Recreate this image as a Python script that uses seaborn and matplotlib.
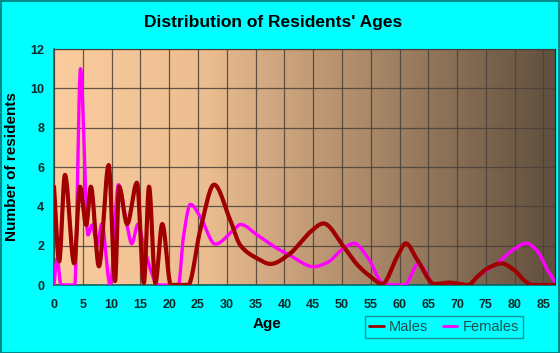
import matplotlib
matplotlib.use("Agg")
import matplotlib.pyplot as plt
import numpy as np
import pandas as pd
import seaborn as sns
from matplotlib.colors import LinearSegmentedColormap
from matplotlib.patches import Rectangle
from matplotlib.ticker import MultipleLocator


TITLE = "Distribution of Residents' Ages"
X_LABEL = "Age"
Y_LABEL = "Number of residents"

# points (age, residents)
MALE_AGES = [0, 0.9, 1.9, 3.5, 4.5, 5.6, 6.4, 7.8, 9.5, 10.6, 11.3, 12.7, 14.4, 15.6,
             16.5, 17.6, 18.8, 20.3, 23.3, 25.4, 27.8, 30.6, 32.4, 35.3, 37.6, 41.0,
             42.8, 44.5, 46.8, 50.3, 52.7, 55.0, 57.0, 59.6, 61.1, 63.1, 66.1, 68.6,
             71.9, 73.5, 75.3, 77.7, 79.9, 81.6, 83.0, 87.0]
MALE_VALUES = [5.0, 1.2, 5.6, 1.1, 5.0, 3.05, 5.0, 0.95, 6.1, 0.2, 5.0, 3.1, 5.2, 0.1,
               5.0, 0.1, 3.1, 0.0, 0.0, 2.8, 5.1, 3.3, 2.0, 1.35, 1.07, 1.6,
               2.15, 2.7, 3.13, 1.95, 1.02, 0.42, 0.05, 1.44, 2.12, 1.27, 0.05, 0.12,
               0.0, 0.42, 0.85, 1.1, 0.76, 0.25, 0.0, 0.0]

FEMALE_AGES = [0, 0.55, 1.2, 3.6, 4.6, 5.9, 6.6, 7.5, 8.3, 9.75, 11.2, 12.7, 13.5, 14.6,
               15.7, 18.2, 21.6, 22.5, 23.7, 25.4, 28.0, 31.2, 32.4, 35.3, 38.7, 41.0,
               45.1, 47.4, 50.3, 52.1, 54.4, 57.3, 60.9, 63.3, 66.1, 71.9, 73.5, 77.3,
               79.3, 82.1, 84.0, 85.7, 87.0]
FEMALE_VALUES = [0.0, 1.35, 0.0, 0.0, 11.0, 2.55, 3.05, 2.05, 3.1, 0.0, 5.1, 3.0, 2.1, 3.1,
                 1.8, 0.0, 0.0, 2.5, 4.1, 3.47, 2.08, 2.8, 3.08, 2.54, 1.87, 1.5,
                 0.93, 1.13, 1.87, 2.12, 1.44, 0.05, 0.0, 1.1, 0.0, 0.0, 0.42, 1.18,
                 1.7, 2.12, 1.7, 0.76, 0.15]

X_TICKS = list(range(0, 90, 5))
Y_TICKS = list(range(0, 14, 2))

MALE_COLOR = "#a00000"
FEMALE_COLOR = "#ff00ff"
CYAN = "#00ffff"
TEAL = "#006868"


def smooth_curve(xs, ys, per_unit=20):
    # shape-preserving cubic so the line looks like the original smoothed chart line
    x = np.asarray(xs, float)
    y = np.asarray(ys, float)
    h = np.diff(x)
    d = np.diff(y) / h
    m = np.zeros_like(y)
    for k in range(1, len(x) - 1):
        if d[k - 1] * d[k] > 0:
            w1 = 2 * h[k] + h[k - 1]
            w2 = h[k] + 2 * h[k - 1]
            m[k] = (w1 + w2) / (w1 / d[k - 1] + w2 / d[k])
    m[0], m[-1] = d[0], d[-1]
    out_x, out_y = [], []
    for k in range(len(x) - 1):
        n = max(int(h[k] * per_unit), 4)
        t = np.linspace(0, 1, n, endpoint=False)
        h00 = 2 * t**3 - 3 * t**2 + 1
        h10 = t**3 - 2 * t**2 + t
        h01 = -2 * t**3 + 3 * t**2
        h11 = t**3 - t**2
        out_x.append(x[k] + t * h[k])
        out_y.append(h00 * y[k] + h10 * h[k] * m[k] + h01 * y[k + 1] + h11 * h[k] * m[k + 1])
    out_x.append([x[-1]])
    out_y.append([y[-1]])
    return np.concatenate(out_x), np.clip(np.concatenate(out_y), 0, None)


sns.set_style("white")
plt.rcParams["font.family"] = ["Liberation Sans", "DejaVu Sans"]

fig = plt.figure(figsize=(5.6, 3.53), dpi=100, facecolor=CYAN)
ax = fig.add_axes([54 / 560, 1 - 285 / 353, 501 / 560, 236 / 353])

# background gradient, light peach on the left to dark brown on the right
bg = LinearSegmentedColormap.from_list(
    "bg",
    [(0.0, "#fbcc9e"), (0.3, "#ecbd90"), (0.6, "#b08d6c"), (1.0, "#604f3e")],
)
ax.imshow(np.linspace(0, 1, 256).reshape(1, -1), cmap=bg, aspect="auto",
          extent=[0, 87, 0, 12], zorder=0)

mx, my = smooth_curve(MALE_AGES, MALE_VALUES)
fx, fy = smooth_curve(FEMALE_AGES, FEMALE_VALUES)
males = pd.DataFrame({"age": mx, "residents": my})
females = pd.DataFrame({"age": fx, "residents": fy})

sns.lineplot(data=females, x="age", y="residents", color=FEMALE_COLOR, lw=2.4,
             sort=False, estimator=None, ax=ax, label="Females", zorder=3)
sns.lineplot(data=males, x="age", y="residents", color=MALE_COLOR, lw=3.0,
             sort=False, estimator=None, ax=ax, label="Males", zorder=4)

ax.set_xlim(0, 87)
ax.set_ylim(0, 12)
ax.set_xticks(X_TICKS)
ax.set_yticks(Y_TICKS)
ax.xaxis.set_minor_locator(MultipleLocator(1))
ax.grid(True, which="major", color="#4a4038", lw=0.9, alpha=0.85, zorder=1)
ax.set_axisbelow(False)
for line in ax.get_xgridlines() + ax.get_ygridlines():
    line.set_zorder(1)

ax.tick_params(axis="both", which="both", direction="out", color=TEAL,
               labelcolor="#0a2a2a", labelsize=9)
ax.tick_params(axis="x", which="major", length=4, pad=6)
ax.tick_params(axis="x", which="minor", length=3)
ax.tick_params(axis="y", which="major", length=4, pad=3)
for lab in ax.get_xticklabels() + ax.get_yticklabels():
    lab.set_fontweight("bold")

for side in ["top", "right"]:
    ax.spines[side].set_color("#2a2a2a")
for side in ["left", "bottom"]:
    ax.spines[side].set_color(TEAL)
    ax.spines[side].set_linewidth(1.2)

ax.set_xlabel(X_LABEL, fontsize=11, fontweight="bold", color="black")
ax.set_ylabel(Y_LABEL, fontsize=11, fontweight="bold", color="black", labelpad=8)
ax.xaxis.set_label_coords(0.425, -0.165)
ax.xaxis.label.set_va("center")

fig.text(0.487, 0.935, TITLE, ha="center", va="center", fontsize=12.5,
         fontweight="bold", color="black")

handles, labels = ax.get_legend_handles_labels()
order = [labels.index("Males"), labels.index("Females")]
leg = ax.legend([handles[i] for i in order], [labels[i] for i in order],
                loc="center", bbox_to_anchor=(444 / 560, 1 - 327 / 353),
                bbox_transform=fig.transFigure, ncol=2, frameon=True,
                fancybox=False, handlelength=1.0, handletextpad=0.35,
                columnspacing=1.0, borderpad=0.3, fontsize=10.5)
leg.get_frame().set_facecolor(CYAN)
leg.get_frame().set_edgecolor("#1a7a7a")
leg.get_frame().set_linewidth(1.0)
for txt in leg.get_texts():
    txt.set_color("#1a5252")
for lh in leg.get_lines():
    lh.set_linewidth(2.0)

fig.add_artist(Rectangle((0.001, 0.001), 0.997, 0.996, transform=fig.transFigure,
                         fill=False, edgecolor="#008b8b", lw=1.5))

fig.savefig("out.png", dpi=100, facecolor=CYAN)
